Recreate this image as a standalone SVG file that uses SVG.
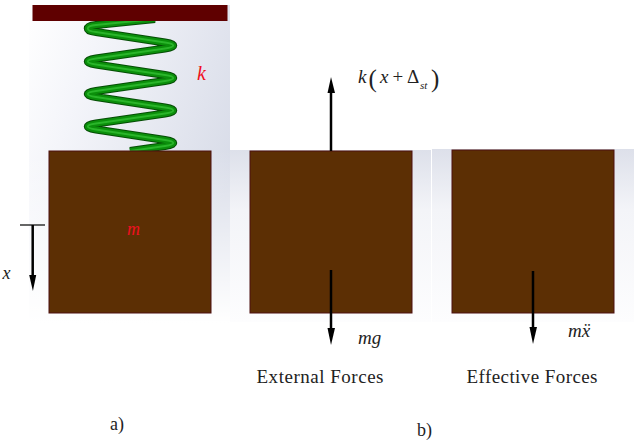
<svg xmlns="http://www.w3.org/2000/svg" width="640" height="447" viewBox="0 0 640 447">
<defs>
<linearGradient id="bgL" x1="0" y1="0" x2="1" y2="0.55"><stop offset="0" stop-color="#ffffff"/><stop offset="0.3" stop-color="#f4f5fa"/><stop offset="1" stop-color="#d8dce8"/></linearGradient>
<linearGradient id="fade" x1="0" y1="0" x2="0" y2="1"><stop offset="0" stop-color="#ffffff" stop-opacity="0"/><stop offset="1" stop-color="#ffffff" stop-opacity="1"/></linearGradient>
<linearGradient id="bgP" x1="0" y1="0" x2="0" y2="1"><stop offset="0" stop-color="#dde0ea"/><stop offset="0.35" stop-color="#f3f4f8"/><stop offset="1" stop-color="#fdfdfe"/></linearGradient>
<path id="coil" d="M155 19 L96 25 C85 26 85 31 96 32 L165 42.500 C176 44 176 47 165 48.500 L96 58.500 C85 60 85 63 96 64.500 L165 75 C176 76.500 176 79.500 165 81 L96 91 C85 92.500 85 95.500 96 97 L165 107.500 C176 109 176 112 165 113.500 L96 123.500 C85 125 85 128 96 129.500 L165 140 C176 141.500 176 144.500 165 146 L130 151"/>
</defs>
<style>
.mass{fill:#5c2f04;stroke:#4d1010;stroke-width:1}
.ar{fill:#000}
.ln{stroke:#000;stroke-width:2.500;fill:none}
.t{font-family:"Liberation Serif",serif;font-size:19px;fill:#222}
.i{font-family:"Liberation Serif",serif;font-style:italic;font-size:19px;fill:#222}
.s0{fill:none;stroke:#054d05;stroke-width:8;stroke-linejoin:round}
.s1{fill:none;stroke:#0b8f0b;stroke-width:6;stroke-linejoin:round}
.s2{fill:none;stroke:#2ab52a;stroke-width:1.800}
</style>
<g id="backgrounds">
<rect x="29" y="5" width="201" height="318" fill="url(#bgL)"/>
<rect x="29" y="150" width="201" height="173" fill="url(#fade)"/>
<rect x="230" y="150" width="201" height="172" fill="url(#bgP)"/>
<rect x="432" y="149" width="202" height="173" fill="url(#bgP)"/>
</g>
<g id="spring">
<use href="#coil" class="s0"/>
<use href="#coil" class="s1"/>
<use href="#coil" class="s2"/>
</g>
<g id="support"><rect x="32.500" y="5" width="195" height="16" fill="#5f0000"/></g>
<g id="mass-a">
<rect class="mass" x="49" y="151" width="162" height="162"/>
<text class="i" x="133.500" y="235" text-anchor="middle" style="fill:#f01020;font-size:18px">m</text>
</g>
<g id="label-k"><text class="i" x="201.500" y="80" text-anchor="middle" style="fill:#f01020;font-size:20px">k</text></g>
<g id="mass-external"><rect class="mass" x="250" y="151" width="162" height="162"/></g>
<g id="mass-effective"><rect class="mass" x="452" y="150" width="162" height="163"/></g>
<g id="connectors">
<path d="M20 225H45" stroke="#000" stroke-width="1.200" fill="none"/>
<path class="ln" d="M32.700 225V280"/><path class="ar" d="M29.200 275H36.200L32.900 291Z"/>
<path class="ln" d="M331 151V90"/><path class="ar" d="M327.500 93H335L331 77Z"/>
<path class="ln" d="M331 270V332"/><path class="ar" d="M327.500 328H335L331 345Z"/>
<path class="ln" d="M533 271V331"/><path class="ar" d="M529.500 327H537L533 344Z"/>
</g>
<g id="labels">
<text class="i" x="2.500" y="279" style="font-size:18px">x</text>
<text class="i" x="358" y="83">k</text>
<text class="t" x="368.500" y="87" style="font-size:25px">(</text>
<text class="i" x="380" y="83">x</text>
<text class="t" x="392.500" y="83">+</text>
<text class="t" x="407" y="83">Δ</text>
<text class="i" x="420" y="89" style="font-size:11px">st</text>
<text class="t" x="431" y="87" style="font-size:25px">)</text>
<text class="i" x="358" y="344">mg</text>
<text class="i" x="568" y="337">mẍ</text>
<text class="t" x="256.500" y="383" textLength="127" lengthAdjust="spacing">External Forces</text>
<text class="t" x="466.500" y="383" textLength="131" lengthAdjust="spacing">Effective Forces</text>
<text class="t" x="110" y="430" style="font-size:18px">a)</text>
<text class="t" x="417" y="436" style="font-size:18px">b)</text>
</g>
</svg>
